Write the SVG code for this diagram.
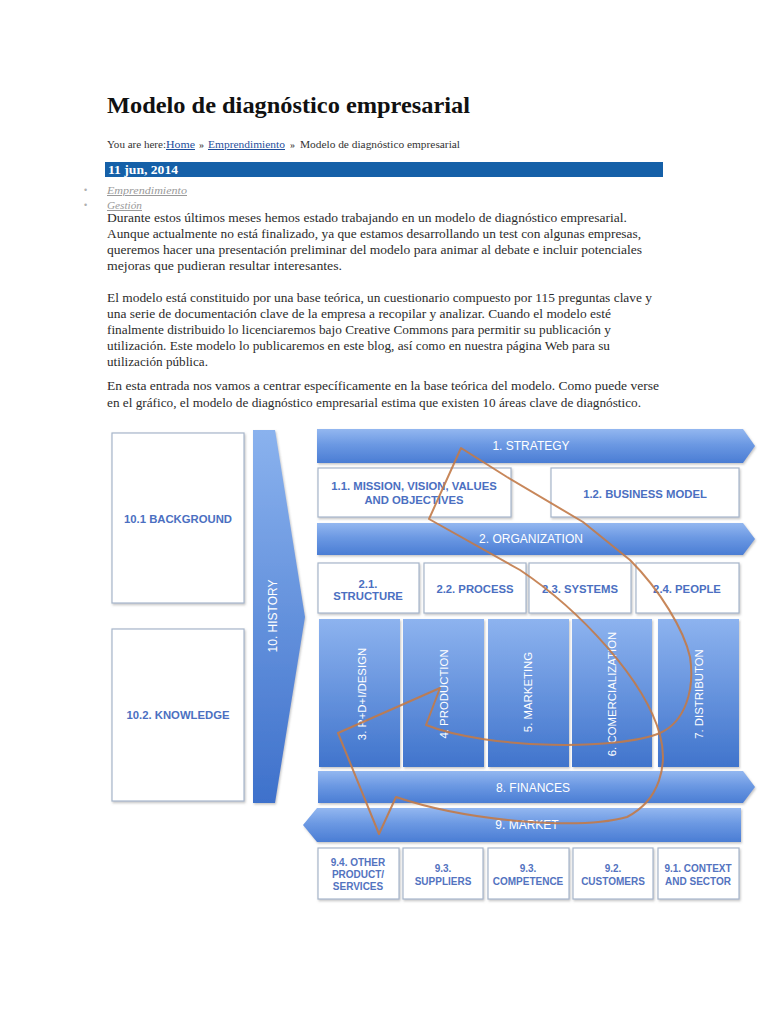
<svg xmlns="http://www.w3.org/2000/svg" width="768" height="1024" viewBox="0 0 768 1024">
<defs>
<linearGradient id="gBar" x1="0" y1="0" x2="0" y2="1"><stop offset="0" stop-color="#93b7f0"/><stop offset="0.45" stop-color="#6c99e3"/><stop offset="1" stop-color="#4a7dd4"/></linearGradient>
<linearGradient id="gCol" x1="0" y1="0" x2="0" y2="1"><stop offset="0" stop-color="#8db3ef"/><stop offset="1" stop-color="#4074cc"/></linearGradient>
<linearGradient id="gHist" x1="0" y1="0" x2="0" y2="1"><stop offset="0" stop-color="#8ab2ee"/><stop offset="1" stop-color="#3e71cb"/></linearGradient>
<filter id="sh" x="-10%" y="-10%" width="125%" height="130%"><feDropShadow dx="1" dy="1.5" stdDeviation="1" flood-color="#7a7a7a" flood-opacity="0.45"/></filter>
<style>
.body{font-family:"Liberation Serif",serif;font-size:13px;fill:#2b2b2b}
.crumb{font-family:"Liberation Serif",serif;font-size:10px;fill:#333}
.link{fill:#1f4f9c;text-decoration:underline}
.cat{font-family:"Liberation Serif",serif;font-size:10px;font-style:italic;fill:#9a9a9a;text-decoration:underline}
.box{fill:#ffffff;stroke:#a7b6cb;stroke-width:1.2;filter:url(#sh)}
.bt{font-family:"Liberation Sans",Arial,sans-serif;font-weight:bold;font-size:11.3px;fill:#4b6fc1;text-anchor:middle}
.bs{font-family:"Liberation Sans",Arial,sans-serif;font-weight:bold;font-size:10px;fill:#5373bf;text-anchor:middle}
.bar{fill:url(#gBar);filter:url(#sh)}
.col{fill:url(#gCol);filter:url(#sh)}
.wt{font-family:"Liberation Sans",Arial,sans-serif;font-size:12px;fill:#ffffff;text-anchor:middle}
.ct{font-family:"Liberation Sans",Arial,sans-serif;font-size:11.4px;fill:#ffffff;text-anchor:middle}
.doodle{fill:none;stroke:#c27a48;stroke-width:2;stroke-linejoin:round;stroke-linecap:round;opacity:0.9}
</style>
</defs>
<rect width="768" height="1024" fill="#ffffff"/>

<g id="header">
<text x="107" y="113" font-family="Liberation Serif, serif" font-weight="bold" font-size="24" fill="#111" textLength="363" lengthAdjust="spacingAndGlyphs">Modelo de diagnóstico empresarial</text>
<text class="crumb" x="107" y="148" textLength="59" lengthAdjust="spacingAndGlyphs">You are here:</text>
<text class="crumb link" x="166" y="148" textLength="29" lengthAdjust="spacingAndGlyphs">Home</text>
<text class="crumb" x="199" y="148">»</text>
<text class="crumb link" x="208" y="148" textLength="77" lengthAdjust="spacingAndGlyphs">Emprendimiento</text>
<text class="crumb" x="290" y="148">»</text>
<text class="crumb" x="300" y="148" textLength="160" lengthAdjust="spacingAndGlyphs">Modelo de diagnóstico empresarial</text>
<rect x="105" y="162" width="558" height="15" fill="#1560a8"/>
<text x="108" y="174" font-family="Liberation Serif, serif" font-weight="bold" font-size="12" fill="#ffffff" textLength="70" lengthAdjust="spacingAndGlyphs">11 jun, 2014</text>
<text x="84" y="193" font-family="Liberation Sans, sans-serif" font-size="9" fill="#b0b0b0">•</text>
<text x="84" y="208" font-family="Liberation Sans, sans-serif" font-size="9" fill="#b0b0b0">•</text>
<text class="cat" x="107" y="194" textLength="80" lengthAdjust="spacingAndGlyphs">Emprendimiento</text>
<text class="cat" x="107" y="209" textLength="35" lengthAdjust="spacingAndGlyphs">Gestión</text>
</g>

<g id="text">
<text class="body" x="107" y="222" textLength="520" lengthAdjust="spacingAndGlyphs">Durante estos últimos meses hemos estado trabajando en un modelo de diagnóstico empresarial.</text>
<text class="body" x="107" y="238" textLength="534" lengthAdjust="spacingAndGlyphs">Aunque actualmente no está finalizado, ya que estamos desarrollando un test con algunas empresas,</text>
<text class="body" x="107" y="254" textLength="535" lengthAdjust="spacingAndGlyphs">queremos hacer una presentación preliminar del modelo para animar al debate e incluir potenciales</text>
<text class="body" x="107" y="270" textLength="235" lengthAdjust="spacingAndGlyphs">mejoras que pudieran resultar interesantes.</text>
<text class="body" x="107" y="302" textLength="545" lengthAdjust="spacingAndGlyphs">El modelo está constituido por una base teórica, un cuestionario compuesto por 115 preguntas clave y</text>
<text class="body" x="107" y="318" textLength="504" lengthAdjust="spacingAndGlyphs">una serie de documentación clave de la empresa a recopilar y analizar. Cuando el modelo esté</text>
<text class="body" x="107" y="334" textLength="504" lengthAdjust="spacingAndGlyphs">finalmente distribuido lo licenciaremos bajo Creative Commons para permitir su publicación y</text>
<text class="body" x="107" y="350" textLength="503" lengthAdjust="spacingAndGlyphs">utilización. Este modelo lo publicaremos en este blog, así como en nuestra página Web para su</text>
<text class="body" x="107" y="366" textLength="101" lengthAdjust="spacingAndGlyphs">utilización pública.</text>
<text class="body" x="107" y="390" textLength="552" lengthAdjust="spacingAndGlyphs">En esta entrada nos vamos a centrar específicamente en la base teórica del modelo. Como puede verse</text>
<text class="body" x="107" y="407" textLength="534" lengthAdjust="spacingAndGlyphs">en el gráfico, el modelo de diagnóstico empresarial estima que existen 10 áreas clave de diagnóstico.</text>
</g>

<g id="n10-1"><rect class="box" x="112" y="433" width="132" height="170"/><text class="bt" x="178" y="523">10.1 BACKGROUND</text></g>
<g id="n10-2"><rect class="box" x="112" y="629" width="132" height="172"/><text class="bt" x="178" y="719">10.2. KNOWLEDGE</text></g>
<g id="n10"><path d="M253,430 H275 L305,617 L275,803 H253 Z" fill="url(#gHist)" filter="url(#sh)"/><text class="wt" font-size="13" transform="translate(277,616) rotate(-90)">10. HISTORY</text></g>

<g id="n1"><path class="bar" d="M317,429 H743 L755,446 L743,463 H317 Z"/><text class="wt" x="531" y="450">1. STRATEGY</text></g>
<g id="n1-1"><rect class="box" x="318" y="468" width="193" height="49"/><text class="bt" x="414" y="490">1.1. MISSION, VISION, VALUES</text><text class="bt" x="414" y="504">AND OBJECTIVES</text></g>
<g id="n1-2"><rect class="box" x="551" y="468" width="188" height="49"/><text class="bt" x="645" y="498">1.2. BUSINESS MODEL</text></g>
<g id="n2"><path class="bar" d="M317,523 H743 L755,539 L743,555 H317 Z"/><text class="wt" x="531" y="543">2. ORGANIZATION</text></g>
<g id="n2-1"><rect class="box" x="318" y="563" width="101" height="50"/><text class="bt" x="368" y="588">2.1.</text><text class="bt" x="368" y="600">STRUCTURE</text></g>
<g id="n2-2"><rect class="box" x="424" y="563" width="102" height="50"/><text class="bt" x="475" y="593">2.2. PROCESS</text></g>
<g id="n2-3"><rect class="box" x="529" y="563" width="102" height="50"/><text class="bt" x="580" y="593">2.3. SYSTEMS</text></g>
<g id="n2-4"><rect class="box" x="636" y="563" width="103" height="50"/><text class="bt" x="687" y="593">2.4. PEOPLE</text></g>

<g id="n3"><rect class="col" x="319" y="619" width="81" height="148"/><text class="ct" transform="translate(366,694) rotate(-90)">3. R+D+I/DESIGN</text></g>
<g id="n4"><rect class="col" x="403" y="619" width="81" height="148"/><text class="ct" transform="translate(448,694) rotate(-90)">4. PRODUCTION</text></g>
<g id="n5"><rect class="col" x="488" y="619" width="81" height="148"/><text class="ct" transform="translate(532,692) rotate(-90)">5. MARKETING</text></g>
<g id="n6"><rect class="col" x="572" y="619" width="80" height="148"/><text class="ct" transform="translate(616,694) rotate(-90)">6. COMERCIALIZATION</text></g>
<g id="n7"><rect class="col" x="658" y="619" width="81" height="148"/><text class="ct" transform="translate(703,694) rotate(-90)">7. DISTRIBUTON</text></g>

<g id="n8"><path class="bar" d="M318,771 H743 L755,787 L743,803 H318 Z"/><text class="wt" font-size="14" x="533" y="792">8. FINANCES</text></g>
<g id="n9"><path class="bar" d="M741,808 H317 L303,825 L317,842 H741 Z"/><text class="wt" x="527" y="829" fill="#eef2fa">9. MARKET</text></g>

<g id="n9-4"><rect class="box" x="318" y="848" width="81" height="51"/><text class="bs" x="358" y="866">9.4. OTHER</text><text class="bs" x="358" y="878">PRODUCT/</text><text class="bs" x="358" y="890">SERVICES</text></g>
<g id="n9-3a"><rect class="box" x="403" y="848" width="80" height="51"/><text class="bs" x="443" y="872">9.3.</text><text class="bs" x="443" y="885">SUPPLIERS</text></g>
<g id="n9-3b"><rect class="box" x="488" y="848" width="81" height="51"/><text class="bs" x="528" y="872">9.3.</text><text class="bs" x="528" y="885">COMPETENCE</text></g>
<g id="n9-2"><rect class="box" x="573" y="848" width="80" height="51"/><text class="bs" x="613" y="872">9.2.</text><text class="bs" x="613" y="885">CUSTOMERS</text></g>
<g id="n9-1"><rect class="box" x="658" y="848" width="81" height="51"/><text class="bs" x="698" y="872">9.1. CONTEXT</text><text class="bs" x="698" y="885">AND SECTOR</text></g>

<g id="connectors">
<path class="doodle" d="M461,448 L429,519 L520,570 C580,610 645,680 660,735 C668,765 660,800 627,817 C580,830 470,822 396,797 L379,834 L338,733 L440,688 L426,725 C490,750 620,750 660,733 C685,722 695,690 690,657 C684,630 660,590 630,560 L583,522 L507,477 Z"/>
</g>
</svg>
